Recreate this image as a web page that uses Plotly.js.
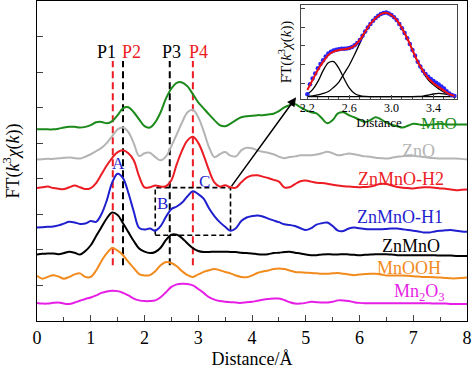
<!DOCTYPE html>
<html>
<head>
<meta charset="utf-8">
<script src="https://cdn.plot.ly/plotly-3.0.1.min.js"></script>
<style>html,body{margin:0;padding:0;background:#fff;}#chart{width:474px;height:369px;}</style>
</head>
<body>
<div id="chart"></div>
<script>
// ---------- main panel data ----------
const distance = [0,0.1,0.2,0.3,0.4,0.5,0.6,0.7,0.8,0.9,1,1.1,1.2,1.3,1.4,1.5,1.6,1.7,1.8,1.9,2,2.1,2.2,2.3,2.4,2.5,2.6,2.7,2.8,2.9,3,3.1,3.2,3.3,3.4,3.5,3.6,3.7,3.8,3.9,4,4.1,4.2,4.3,4.4,4.5,4.6,4.7,4.8,4.9,5,5.1,5.2,5.3,5.4,5.5,5.6,5.7,5.8,5.9,6,6.1,6.2,6.3,6.4,6.5,6.6,6.7,6.8,6.9,7,7.1,7.2,7.3,7.4,7.5,7.6,7.7,7.8,7.9,8];

const MnO = [5.39,5.39,5.39,5.39,5.41,5.44,5.46,5.46,5.44,5.46,
 5.51,5.59,5.60,5.56,5.62,5.79,5.98,6.01,5.87,5.67,
 5.48,5.44,5.59,5.87,6.26,6.54,6.70,6.71,6.60,6.38,
 6.15,5.98,5.81,5.65,5.51,5.48,5.55,5.65,5.73,5.76,
 5.77,5.79,5.79,5.81,5.83,5.90,6.01,6.07,6.10,6.01,
 5.93,5.87,5.84,5.70,5.56,5.65,5.84,5.87,5.79,5.73,
 5.66,5.60,5.65,5.73,5.67,5.58,5.52,5.48,5.44,5.49,
 5.55,5.53,5.51,5.52,5.53,5.55,5.53,5.53,5.53,5.53,5.53];

const ZnO = [4.54,4.55,4.56,4.56,4.58,4.59,4.60,4.58,4.57,4.62,
 4.69,4.78,4.87,5.01,5.20,5.39,5.44,5.31,5.00,4.64,
 4.72,4.73,4.61,4.52,4.63,4.92,5.25,5.59,5.87,5.94,
 5.73,5.34,4.89,4.61,4.69,4.75,4.65,4.63,4.80,4.87,
 4.86,4.80,4.76,4.73,4.69,4.62,4.58,4.61,4.63,4.66,
 4.66,4.66,4.68,4.72,4.76,4.72,4.66,4.68,4.71,4.69,
 4.66,4.63,4.62,4.59,4.58,4.57,4.59,4.62,4.63,4.66,
 4.65,4.63,4.61,4.59,4.58,4.57,4.57,4.57,4.57,4.56,4.54];

const ZnMnO_H2 = [3.74,3.76,3.78,3.74,3.72,3.71,3.76,3.81,3.76,3.71,
 3.74,3.88,4.13,4.38,4.59,4.75,4.80,4.72,4.52,4.07,
 3.76,3.76,3.81,3.78,3.79,3.96,4.41,4.80,5.08,5.18,
 5.01,4.66,4.24,3.90,3.78,3.82,3.76,3.75,3.90,4.03,
 4.09,4.10,4.06,4.02,3.97,3.92,3.76,3.76,3.85,3.93,
 3.95,3.92,3.89,3.88,3.86,3.83,3.81,3.79,3.78,3.77,
 3.76,3.77,3.78,3.82,3.86,3.85,3.81,3.77,3.75,3.74,
 3.73,3.75,3.76,3.76,3.75,3.73,3.72,3.70,3.68,3.69,3.70];

const ZnMnO_H1 = [2.63,2.64,2.65,2.66,2.69,2.74,2.79,2.77,2.73,2.74,
 2.81,2.79,3.01,3.40,3.90,4.14,4.02,3.60,3.08,2.62,
 2.57,2.60,2.54,2.67,2.93,3.15,3.22,3.33,3.51,3.65,
 3.57,3.44,3.17,2.95,2.78,2.65,2.54,2.61,2.81,2.91,
 2.95,2.97,2.94,2.88,2.83,2.78,2.72,2.70,2.67,2.61,
 2.56,2.61,2.71,2.75,2.77,2.67,2.54,2.53,2.60,2.63,
 2.61,2.59,2.58,2.58,2.58,2.59,2.60,2.60,2.58,2.56,
 2.54,2.52,2.49,2.49,2.52,2.54,2.55,2.56,2.54,2.52,2.51];

const ZnMnO = [1.87,1.89,1.90,1.90,1.88,1.91,1.95,1.92,1.87,1.97,
 2.13,2.39,2.64,2.89,3.05,2.98,2.75,2.50,2.25,2.04,
 1.95,1.91,1.94,2.06,2.28,2.43,2.43,2.33,2.18,2.05,
 1.97,1.94,1.94,1.95,1.95,1.95,1.94,1.94,1.92,1.91,
 1.90,1.88,1.87,1.88,1.91,1.92,1.94,1.95,1.92,1.90,
 1.87,1.85,1.85,1.87,1.88,1.87,1.87,1.88,1.87,1.86,
 1.85,1.86,1.87,1.88,1.88,1.88,1.87,1.85,1.85,1.85,
 1.85,1.85,1.85,1.85,1.85,1.84,1.84,1.84,1.83,1.83,1.83];

const MnOOH = [1.27,1.19,1.24,1.29,1.25,1.19,1.24,1.31,1.34,1.24,
 1.24,1.42,1.69,1.91,2.05,1.98,1.85,1.66,1.49,1.32,
 1.28,1.29,1.40,1.57,1.66,1.63,1.54,1.40,1.29,1.24,
 1.31,1.38,1.43,1.46,1.43,1.38,1.34,1.28,1.24,1.23,
 1.28,1.35,1.39,1.42,1.46,1.48,1.46,1.42,1.38,1.37,
 1.36,1.35,1.34,1.33,1.33,1.34,1.35,1.33,1.31,1.29,
 1.31,1.32,1.33,1.33,1.31,1.28,1.28,1.28,1.28,1.27,
 1.26,1.25,1.24,1.24,1.23,1.22,1.21,1.20,1.20,1.21,1.22];

const Mn2O3 = [0.51,0.49,0.49,0.51,0.52,0.49,0.48,0.52,0.57,0.62,
 0.66,0.72,0.79,0.83,0.85,0.84,0.79,0.72,0.63,0.58,
 0.56,0.56,0.58,0.67,0.81,0.96,1.03,1.05,1.04,1.00,
 0.90,0.79,0.67,0.60,0.56,0.54,0.53,0.52,0.51,0.53,
 0.54,0.57,0.60,0.62,0.63,0.63,0.59,0.53,0.49,0.49,
 0.51,0.54,0.53,0.52,0.52,0.54,0.58,0.58,0.56,0.53,
 0.51,0.50,0.50,0.50,0.50,0.50,0.50,0.50,0.50,0.50,
 0.50,0.50,0.50,0.50,0.49,0.49,0.49,0.48,0.48,0.48,0.48];

const seriesNames = ['MnO','ZnO','ZnMnO-H2','ZnMnO-H1','ZnMnO','MnOOH','Mn<sub>2</sub>O<sub>3</sub>'];
const seriesValues = [MnO, ZnO, ZnMnO_H2, ZnMnO_H1, ZnMnO, MnOOH, Mn2O3];
const seriesColors = ['#1b8a1b','#b4b4b4','#ec1c24','#1f1fcf','#000000','#f28b1e','#e61ee6'];

// peak marker lines
const peakNames = ['P1','P2','P3','P4'];
const peakPos = [1.41, 1.60, 2.47, 2.90];
const peakLineColors = ['#ec1c24','#000000','#000000','#ec1c24'];
const peakTextColors = ['#000000','#ec1c24','#000000','#ec1c24'];
const peakSpan = [1.57, 7.31];

// zoom box (region shown in the inset)
const boxX = [2.2, 3.6];
const boxY = [2.41, 3.75];

// ---------- inset data ----------
const insetX = [2.2,2.25,2.3,2.35,2.4,2.45,2.5,2.55,2.6,2.65,2.7,2.75,2.8,2.85,2.9,2.95,3,3.05,3.1,3.15,3.2,3.25,3.3,3.35,3.4,3.45,3.5,3.55,3.6];
const fitTotal = [0.68,1.21,1.74,2.16,2.53,2.70,2.79,2.83,2.88,3.02,3.32,3.75,4.16,4.46,4.68,4.75,4.63,4.37,3.93,3.41,2.79,2.17,1.70,1.30,1.04,0.83,0.65,0.46,0.37];
const shell1 = [0.45,0.70,1.12,1.70,2.12,2.18,1.82,1.27,0.78,0.50,0.38,0.34,0.33,0.33,0.33,0.33,0.33,0.33,0.33,0.33,0.33,0.33,0.33,0.33,0.33,0.33,0.33,0.33,0.33];
const shell2 = [0.35,0.37,0.42,0.50,0.60,0.82,1.10,1.55,2.00,2.55,3.15,3.72,4.14,4.45,4.66,4.74,4.63,4.37,3.93,3.41,2.79,2.17,1.62,1.22,0.95,0.74,0.56,0.45,0.38];
const shell3 = [0.33,0.33,0.33,0.33,0.33,0.33,0.33,0.33,0.33,0.33,0.33,0.33,0.33,0.33,0.33,0.33,0.33,0.33,0.33,0.33,0.33,0.34,0.36,0.41,0.47,0.50,0.48,0.42,0.37];
const dotsX = [2.2,2.225,2.25,2.275,2.3,2.325,2.35,2.375,2.4,2.425,2.45,2.475,2.5,2.525,2.55,2.575,2.6,2.625,2.65,2.675,2.7,2.725,2.75,2.775,2.8,2.825,2.85,2.875,2.9,2.925,2.95,2.975,3,3.025,3.05,3.075,3.1,3.125,3.15,3.175,3.2,3.225,3.25,3.275,3.3,3.325,3.35,3.375,3.4,3.425,3.45,3.475,3.5,3.525,3.55,3.575,3.6];
const dotsY = [0.45,0.98,1.28,1.55,1.82,2.05,2.25,2.45,2.60,2.70,2.76,2.80,2.83,2.85,2.86,2.87,2.90,2.95,3.04,3.16,3.32,3.54,3.76,3.97,4.16,4.33,4.47,4.59,4.68,4.74,4.76,4.71,4.63,4.51,4.37,4.16,3.93,3.68,3.41,3.10,2.79,2.48,2.17,1.92,1.70,1.52,1.38,1.26,1.16,1.06,0.97,0.86,0.76,0.62,0.50,0.42,0.37];
const insetTicks = [2.2, 2.6, 3.0, 3.4];

// ---------- build ----------
const SERIF = 'Liberation Serif, DejaVu Serif, serif';
const traces = [];

peakPos.forEach((p, i) => {
  traces.push({x: [p, p], y: peakSpan, mode: 'lines', xaxis: 'x', yaxis: 'y',
    line: {color: peakLineColors[i], width: 2, dash: '7px,4px'}, hoverinfo: 'skip'});
});

traces.push({x: [boxX[0], boxX[1], boxX[1], boxX[0], boxX[0]],
  y: [boxY[0], boxY[0], boxY[1], boxY[1], boxY[0]], mode: 'lines', xaxis: 'x', yaxis: 'y',
  line: {color: '#000', width: 1.6, dash: '5px,3px'}, hoverinfo: 'skip'});

seriesValues.forEach((vals, i) => {
  traces.push({x: distance, y: vals, mode: 'lines', name: seriesNames[i], xaxis: 'x', yaxis: 'y',
    line: {color: seriesColors[i], width: 2, shape: 'spline', smoothing: 1}});
});

// inset traces
[shell1, shell2, shell3].forEach(s => {
  traces.push({x: insetX, y: s, mode: 'lines', xaxis: 'x2', yaxis: 'y2',
    line: {color: '#000', width: 1.3, shape: 'spline'}});
});
traces.push({x: dotsX, y: dotsY, mode: 'markers', xaxis: 'x2', yaxis: 'y2',
  marker: {color: '#2424ff', size: 4.5}});
traces.push({x: insetX, y: fitTotal, mode: 'lines', xaxis: 'x2', yaxis: 'y2',
  line: {color: '#ee1111', width: 2, shape: 'spline'}});

const labelPos = [[7.47,5.56],[7.09,4.78],[6.77,3.99],[6.75,2.92],[6.96,2.11],[6.92,1.49],[7.11,0.81]];
const annotations = [];
seriesNames.forEach((n, i) => {
  annotations.push({x: labelPos[i][0], y: labelPos[i][1], xref: 'x', yref: 'y', text: n,
    showarrow: false, borderpad: 0, font: {family: SERIF, size: i === 0 ? 17 : 18, color: seriesColors[i]}});
});
const peakLabelX = [1.30, 1.75, 2.51, 3.00];
peakNames.forEach((n, i) => {
  annotations.push({x: peakLabelX[i], y: 7.56, xref: 'x', yref: 'y', text: n, showarrow: false,
    font: {family: SERIF, size: 18, color: peakTextColors[i]}});
});
[['A', 1.51, 4.44], ['B', 2.34, 3.31], ['C', 3.11, 3.93]].forEach(l => {
  annotations.push({x: l[1], y: l[2], xref: 'x', yref: 'y', text: l[0], showarrow: false,
    font: {family: SERIF, size: 17, color: '#1f1fcf'}});
});
annotations.push({x: 4.82, y: 6.29, ax: boxX[1], ay: boxY[1], xref: 'x', yref: 'y', axref: 'x', ayref: 'y',
  text: '', showarrow: true, arrowhead: 2, arrowsize: 1.2, arrowwidth: 1.5, arrowcolor: '#000'});

const layout = {
  width: 474, height: 369,
  margin: {l: 37, r: 7, t: 1, b: 48},
  paper_bgcolor: '#fff', plot_bgcolor: '#fff',
  showlegend: false, hovermode: false,
  font: {family: SERIF, size: 18, color: '#000'},
  xaxis: {range: [0, 8], dtick: 1, tick0: 0, ticks: 'inside', ticklen: 6, tickwidth: 1,
    minor: {dtick: 0.5, ticks: 'inside', ticklen: 4, tickwidth: 1},
    showline: true, mirror: true, linecolor: '#000', linewidth: 1.2, showgrid: false, zeroline: false,
    tickfont: {family: SERIF, size: 18},
    title: {text: 'Distance/Å', font: {family: SERIF, size: 18}, standoff: 9}},
  yaxis: {range: [0, 9], dtick: 1, tick0: 0, ticks: 'inside', ticklen: 6, tickwidth: 1,
    showticklabels: false, showline: true, mirror: true, linecolor: '#000', linewidth: 1.2,
    showgrid: false, zeroline: false,
    title: {text: 'FT(<i>k</i><sup>3</sup><i>χ</i>(<i>k</i>))', font: {family: SERIF, size: 18}, standoff: 12}},
  xaxis2: {domain: [0.614, 0.977], anchor: 'y2', range: [2.14, 3.625], tickvals: insetTicks,
    ticktext: insetTicks.map(v => v.toFixed(1)), ticks: 'inside', ticklen: 4, tickwidth: 1,
    minor: {dtick: 0.1, ticks: 'inside', ticklen: 2}, showline: true, mirror: true,
    linecolor: '#444', linewidth: 1, showgrid: false, zeroline: false,
    tickfont: {family: SERIF, size: 12}, ticklabelstandoff: -2,
    title: {text: 'Distance', font: {family: SERIF, size: 13}, standoff: 0}},
  yaxis2: {domain: [0.694, 0.9875], anchor: 'x2', range: [0.21, 5.16], dtick: 1, tick0: 0,
    ticks: 'inside', ticklen: 4, tickwidth: 1, showticklabels: false, showline: true, mirror: true,
    linecolor: '#444', linewidth: 1, showgrid: false, zeroline: false,
    title: {text: 'FT(<i>k</i><sup>3</sup><i>χ</i>(<i>k</i>))', font: {family: SERIF, size: 15}, standoff: 4}},
  annotations: annotations
};

Plotly.newPlot('chart', traces, layout, {staticPlot: true, displayModeBar: false});
</script>
</body>
</html>
